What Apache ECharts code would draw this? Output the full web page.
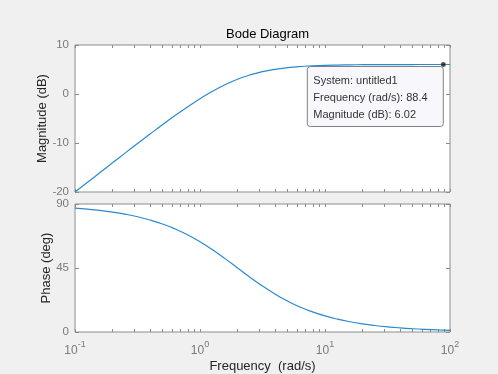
<!DOCTYPE html>
<html><head><meta charset="utf-8">
<script src="https://cdn.jsdelivr.net/npm/echarts@6/dist/echarts.min.js"></script>
<style>html,body{margin:0;padding:0;background:#f0f0f0;}#c{width:498px;height:374px;}</style>
</head><body><div id="c"></div>
<script>
// frequencies (rad/s)
var freq = [0.1,0.1259,0.1585,0.1995,0.2512,0.3162,0.3981,0.5012,0.631,0.7943,1,1.259,1.585,1.995,2.512,3.162,3.981,5.012,6.31,7.943,10,12.59,15.85,19.95,25.12,31.62,39.81,50.12,63.1,79.43,100];
// magnitude (dB)
var magDb = [-20.01,-18.02,-16.03,-14.04,-12.07,-10.11,-8.17,-6.26,-4.41,-2.64,-0.97,0.55,1.88,3.00,3.89,4.56,5.04,5.38,5.61,5.75,5.85,5.91,5.95,5.98,5.99,6.00,6.01,6.015,6.02,6.02,6.02];
// phase (deg)
var phaseDeg = [87.14,86.40,85.47,84.30,82.84,81.02,78.74,75.93,72.49,68.34,63.43,57.81,51.60,45.07,38.53,32.31,26.68,21.76,17.58,14.14,11.31,9.03,7.19,5.72,4.55,3.62,2.88,2.29,1.82,1.44,1.15];
// x tick values
var decadeTicks = [0.1,1,10,100];
var minorTicks = [0.2,0.3,0.4,0.5,0.6,0.7,0.8,0.9,2,3,4,5,6,7,8,9,20,30,40,50,60,70,80,90];
var magTicks = [-20,-10,0,10];
var phaseTicks = [0,45,90];
// data tip
var tipFreq = 88.4;
var tipMag = 6.02;
var tipLines = ['System: untitled1','Frequency (rad/s): 88.4','Magnitude (dB): 6.02'];

var FONT = '"Liberation Sans", Arial, Helvetica, sans-serif';
var allTicks = decadeTicks.concat(minorTicks);
var gridColor = '#8c8c8c';
var labelColor = '#7a7a7a';
var lineColor = '#2a8ad0';

function xAx(gi, pos, withLabels, name) {
  var a = {
    type: 'log', logBase: 10, min: 0.1, max: 100, gridIndex: gi, position: pos,
    axisLine: {show: false, onZero: false},
    axisTick: {show: true, inside: true, length: 3, customValues: allTicks, lineStyle: {color: gridColor}},
    splitLine: {show: false},
    axisLabel: {show: false}
  };
  if (withLabels) {
    a.axisLabel = {
      show: true, customValues: decadeTicks, margin: 8, color: labelColor, fontFamily: FONT,
      formatter: function (v) {
        var e = Math.round(Math.log10(v));
        return '{b|10}{s|' + e + '}';
      },
      rich: {
        b: {fontSize: 12, fontFamily: FONT, color: labelColor, lineHeight: 17, verticalAlign: 'bottom'},
        s: {fontSize: 9, fontFamily: FONT, color: labelColor, verticalAlign: 'top', lineHeight: 17}
      }
    };
    a.name = name;
    a.nameLocation = 'middle';
    a.nameGap = 28;
    a.nameTextStyle = {color: '#262626', fontSize: 13, fontFamily: FONT};
  }
  return a;
}
function yAx(gi, pos, min, max, interval, ticks, withLabels, name, gap) {
  var a = {
    type: 'value', gridIndex: gi, position: pos, min: min, max: max, interval: interval,
    axisLine: {show: false, onZero: false},
    axisTick: {show: true, inside: true, length: 4, customValues: ticks, lineStyle: {color: gridColor}},
    splitLine: {show: false},
    axisLabel: {show: false}
  };
  if (withLabels) {
    a.axisLabel = {show: true, margin: 6, color: labelColor, fontSize: 11.5, fontFamily: FONT, customValues: ticks};
    a.name = name;
    a.nameLocation = 'middle';
    a.nameGap = gap;
    a.nameMoveOverlap = false;
    a.nameRotate = 90;
    a.nameTextStyle = {color: '#262626', fontSize: 13, fontFamily: FONT};
  }
  return a;
}

var magData = freq.map(function (f, i) { return [f, magDb[i]]; });
var phaseData = freq.map(function (f, i) { return [f, phaseDeg[i]]; });

var chart = echarts.init(document.getElementById('c'), null, {renderer: 'canvas'});
chart.setOption({
  backgroundColor: '#f0f0f0',
  animation: false,
  title: {text: 'Bode Diagram', left: 221, top: 23, textStyle: {fontSize: 13, fontWeight: 'normal', color: '#000', fontFamily: FONT}},
  grid: [
    {left: 75, width: 375, top: 45, height: 147, show: true, backgroundColor: '#fff', borderColor: gridColor, borderWidth: 1},
    {left: 75, width: 375, top: 204, height: 129, show: true, backgroundColor: '#fff', borderColor: gridColor, borderWidth: 1}
  ],
  xAxis: [
    xAx(0, 'bottom', false), xAx(0, 'top', false),
    xAx(1, 'bottom', true, 'Frequency  (rad/s)'), xAx(1, 'top', false)
  ],
  yAxis: [
    yAx(0, 'left', -20, 10, 10, magTicks, true, 'Magnitude (dB)', 26), yAx(0, 'right', -20, 10, 10, magTicks, false),
    yAx(1, 'left', 0, 90, 45, phaseTicks, true, 'Phase (deg)', 22), yAx(1, 'right', 0, 90, 45, phaseTicks, false)
  ],
  series: [
    {type: 'line', xAxisIndex: 0, yAxisIndex: 0, data: magData, showSymbol: false, smooth: true,
     lineStyle: {color: lineColor, width: 1.2}, silent: true},
    {type: 'line', xAxisIndex: 2, yAxisIndex: 2, data: phaseData, showSymbol: false, smooth: true,
     lineStyle: {color: lineColor, width: 1.2}, silent: true},
    {type: 'scatter', xAxisIndex: 0, yAxisIndex: 0, data: [[tipFreq, tipMag]], symbolSize: 5,
     itemStyle: {color: '#111', borderColor: '#cfc98a', borderWidth: 0.5}, silent: true, z: 10}
  ]
});

var p = chart.convertToPixel({gridIndex: 0}, [tipFreq, tipMag]);
var bx = p[0] - 136, by = p[1] + 2;
var children = [{
  type: 'rect', shape: {x: bx, y: by, width: 136, height: 60, r: 3},
  style: {fill: '#f8f8fc', stroke: '#808080', lineWidth: 1}
}];
tipLines.forEach(function (t, i) {
  children.push({type: 'text', x: bx + 6, y: by + 14 + i * 17,
    style: {text: t, fill: '#333', font: '11px ' + FONT, textVerticalAlign: 'middle', verticalAlign: 'middle'}});
});
chart.setOption({graphic: [{type: 'group', children: children, z: 100}]});
</script>
</body></html>
